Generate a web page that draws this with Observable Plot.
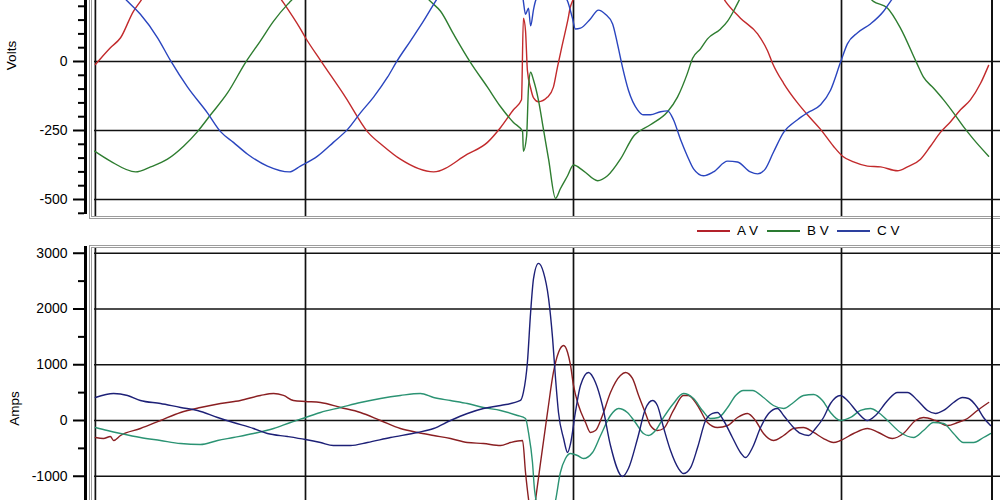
<!DOCTYPE html>
<html>
<head>
<meta charset="utf-8">
<script src="https://cdn.jsdelivr.net/npm/d3@7"></script>
<script src="https://cdn.jsdelivr.net/npm/@observablehq/plot@0.6"></script>
<style>
  html, body { margin: 0; padding: 0; background: #fff; }
  #wrap { position: relative; width: 1000px; height: 500px; overflow: hidden;
          font-family: "Liberation Sans", Arial, sans-serif; color: #000; }
  #topChart { position: absolute; left: 0; top: 0; }
  #botChart { position: absolute; left: 0; top: 247px; }
  .thick { position: absolute; left: 84px; width: 3px; background: #000; }
  .frameTop { position: absolute; left: 89px; top: -10px; width: 1000px; height: 229px;
              border-left: 3px double #9c9c9c; border-bottom: 3px double #9c9c9c; box-sizing: border-box; }
  .frameBot { position: absolute; left: 89px; top: 245px; width: 1000px; height: 300px;
              border-left: 3px double #9c9c9c; border-top: 3px double #9c9c9c; box-sizing: border-box; }
  .rightLine { position: absolute; left: 991px; top: 0; width: 2px; height: 500px; background: #111; }
  .ylab { position: absolute; font-size: 13.5px; transform: rotate(-90deg); transform-origin: center; white-space: nowrap; }
  .sw { position: absolute; top: 230px; height: 2px; width: 33px; }
  .lt { position: absolute; top: 223px; font-size: 13.5px; line-height: 15px; white-space: nowrap; }
</style>
</head>
<body>
<div id="wrap">
  <div id="topChart"></div>
  <div id="botChart"></div>
  <div class="frameTop"></div>
  <div class="frameBot"></div>
  <div class="thick" style="top:0;height:214px"></div>
  <div class="thick" style="top:246px;height:254px"></div>
  <div class="rightLine"></div>
  <div class="ylab" style="left:-3px;top:48px">Volts</div>
  <div class="ylab" style="left:-3px;top:401px">Amps</div>
  <div id="legend"></div>
</div>
<script>
// ---- time axis (ms) ----
const timeGrid = [2.16, 10, 20, 30];
const timeDomain = [2.127, 35.933];

// ---- Volts panel ticks ----
const voltMajor = [-500, -250, 0];
const voltMinor = [-550, -450, -400, -350, -300, -200, -150, -100, -50, 50, 100, 150, 200];

// ---- Amps panel ticks ----
const ampMajor = [-1000, 0, 1000, 2000, 3000];
const ampMinor = [-500, 500, 1500, 2500];

// ---- series names ----
const seriesNames = ["A V", "B V", "C V"];

// ---- A V (volts) ----
const avT = [2.16, 2.72, 3.10, 3.58, 3.84, 4.6, 6.5, 8.3, 9.14, 9.81, 10.00, 10.56, 11.49, 12.31, 12.91, 13.54, 14.78, 16.04, 16.79, 17.28, 17.76, 18.06, 18.13, 18.21, 18.28, 18.40, 18.51, 18.69, 19.03, 19.25, 19.40, 19.59, 19.78, 19.89, 19.96, 20.8, 22.8, 24.8, 25.67, 26.23, 26.87, 27.24, 27.43, 27.84, 28.36, 28.73, 29.22, 29.70, 30.04, 30.45, 30.97, 31.46, 32.09, 32.46, 32.95, 33.32, 33.69, 34.07, 34.44, 34.81, 35.19, 35.49];
const avV = [-11, 50, 86, 182, 218, 330, 400, 330, 218, 118, 86, 4, -129, -254, -307, -354, -400, -336, -293, -239, -175, -139, 157, 111, -32, -96, -132, -146, -129, -93, -21, 64, 146, 200, 218, 380, 450, 380, 218, 157, 100, 39, -7, -79, -150, -193, -246, -307, -343, -364, -379, -382, -396, -382, -354, -307, -257, -218, -175, -139, -79, -14];

// ---- B V (volts) ----
const bvT = [2.13, 2.72, 3.66, 4.22, 4.85, 5.45, 5.97, 6.46, 7.09, 7.76, 8.32, 8.81, 9.33, 9.44, 10.5, 12.05, 13.6, 14.66, 15.04, 15.52, 16.16, 16.79, 17.28, 17.76, 18.10, 18.13, 18.25, 18.32, 18.40, 18.51, 18.69, 18.88, 19.07, 19.33, 19.51, 19.78, 20.00, 20.37, 20.90, 21.27, 21.75, 22.24, 22.87, 23.51, 23.88, 24.25, 24.44, 24.74, 25.00, 25.49, 25.75, 25.97, 26.16, 27.2, 28.66, 30.1, 31.19, 31.72, 32.20, 32.80, 33.06, 33.43, 33.81, 34.18, 34.55, 34.93, 35.49];
const bvV = [-325, -361, -400, -382, -354, -307, -254, -193, -114, -4, 75, 146, 207, 218, 340, 400, 340, 218, 182, 100, -4, -93, -164, -221, -254, -325, -271, -96, -39, -68, -139, -246, -354, -496, -461, -414, -375, -396, -432, -414, -354, -271, -229, -182, -129, -43, 11, 46, 82, 118, 146, 182, 218, 350, 410, 350, 218, 193, 121, -4, -57, -96, -139, -186, -236, -282, -343];

// ---- C V (volts) ----
const cvT = [2.13, 3.36, 3.84, 4.48, 4.96, 5.60, 6.34, 6.83, 7.31, 7.84, 8.58, 9.40, 9.81, 10.45, 11.04, 11.57, 12.05, 12.54, 13.06, 13.43, 13.92, 14.40, 14.78, 14.85, 16.5, 18.0, 18.13, 18.21, 18.32, 18.40, 18.51, 18.58, 19.1, 19.78, 19.96, 20.07, 20.26, 20.63, 20.93, 21.19, 21.46, 21.64, 21.83, 22.05, 22.39, 22.61, 22.87, 23.25, 23.51, 23.73, 23.99, 24.25, 24.48, 24.85, 25.22, 25.75, 26.12, 26.60, 26.87, 27.16, 27.46, 27.84, 28.36, 28.73, 29.22, 29.59, 29.96, 30.22, 30.60, 31.08, 31.57, 31.83, 34.0, 35.93];
const cvV = [365, 218, 171, 86, 4, -93, -186, -254, -293, -336, -379, -400, -379, -343, -293, -246, -186, -129, -57, 4, 75, 146, 207, 218, 400, 330, 218, 171, 193, 129, 189, 218, 300, 218, 157, 118, 121, 154, 186, 171, 136, 64, -21, -104, -175, -193, -193, -182, -179, -211, -282, -343, -389, -414, -400, -361, -364, -400, -407, -389, -329, -257, -211, -186, -157, -104, -4, 64, 104, 136, 182, 218, 400, 240];

// ---- A current (amps) ----
const iaT = [2.16, 2.46, 2.72, 2.84, 3.10, 3.84, 4.59, 5.34, 6.08, 6.83, 7.57, 8.32, 8.81, 9.18, 9.55, 10.00, 10.56, 11.31, 12.05, 12.80, 13.54, 14.18, 14.78, 15.41, 16.04, 16.64, 17.28, 17.65, 18.10, 18.21, 18.32, 18.47, 18.58, 18.77, 19.03, 19.25, 19.44, 19.63, 19.78, 19.89, 20.00, 20.19, 20.45, 20.63, 20.82, 21.08, 21.38, 21.75, 21.94, 22.20, 22.43, 22.69, 22.87, 23.13, 23.36, 23.73, 24.10, 24.29, 24.63, 25.00, 25.37, 25.75, 26.12, 26.49, 26.79, 27.09, 27.46, 27.84, 28.21, 28.58, 28.96, 29.33, 29.70, 29.96, 30.45, 30.97, 31.38, 31.90, 32.31, 32.76, 33.06, 33.51, 33.96, 34.33, 34.70, 35.07, 35.49];
const iaA = [-305, -323, -287, -359, -269, -144, 0, 144, 233, 305, 359, 449, 485, 449, 359, 341, 323, 233, 144, 0, -144, -215, -269, -323, -395, -413, -449, -395, -359, -933, -1400, -1800, -1436, -754, 144, 862, 1221, 1346, 1221, 987, 628, 269, -36, -215, -180, 90, 503, 808, 862, 754, 449, 126, -90, -180, -144, 180, 449, 449, 269, -36, -126, -90, 54, 126, 0, -233, -359, -269, -144, -126, -215, -323, -395, -359, -233, -144, -215, -323, -233, 0, 54, 0, -90, -36, 36, 180, 323];

// ---- B current (amps) ----
const ibT = [2.16, 2.61, 3.10, 3.84, 4.59, 5.34, 6.08, 6.72, 7.31, 8.06, 8.81, 9.44, 10.00, 10.56, 11.31, 12.05, 12.80, 13.54, 14.29, 14.78, 15.41, 16.04, 16.64, 17.28, 17.91, 18.21, 18.32, 18.47, 18.55, 18.96, 19.33, 19.51, 19.70, 19.89, 20.15, 20.37, 20.71, 21.01, 21.38, 21.68, 22.01, 22.31, 22.61, 22.80, 23.06, 23.36, 23.73, 24.10, 24.48, 24.81, 25.11, 25.41, 25.75, 26.05, 26.34, 26.68, 27.09, 27.46, 27.84, 28.21, 28.58, 28.96, 29.29, 29.59, 29.96, 30.34, 30.71, 31.08, 31.38, 31.72, 32.20, 32.69, 33.06, 33.43, 33.81, 34.18, 34.55, 34.93, 35.30, 35.56];
const ibA = [-126, -180, -233, -305, -359, -413, -431, -359, -305, -233, -144, -36, 54, 144, 233, 323, 395, 449, 485, 413, 359, 305, 233, 180, 90, 36, -215, -754, -1257, -2000, -1436, -933, -682, -592, -628, -682, -574, -269, 90, 215, 144, -36, -233, -269, -180, 54, 305, 485, 395, 180, 36, 54, 233, 449, 539, 539, 413, 269, 215, 323, 449, 467, 359, 144, 0, 54, 180, 215, 144, 0, -215, -305, -180, -36, -54, -233, -395, -395, -305, -233];

// ---- C current (amps) ----
const icT = [2.16, 2.84, 3.36, 3.84, 4.59, 5.34, 5.97, 6.72, 7.31, 8.06, 8.58, 9.33, 10.00, 10.56, 11.04, 11.68, 12.31, 13.17, 14.18, 14.78, 15.41, 16.04, 16.64, 17.28, 18.02, 18.13, 18.28, 18.40, 18.51, 18.69, 18.88, 19.07, 19.22, 19.33, 19.44, 19.63, 19.78, 19.89, 20.07, 20.26, 20.56, 20.82, 21.08, 21.38, 21.83, 22.05, 22.39, 22.69, 22.95, 23.13, 23.36, 23.62, 23.92, 24.10, 24.37, 24.63, 24.93, 25.19, 25.37, 25.60, 25.93, 26.23, 26.42, 26.68, 26.98, 27.28, 27.61, 27.84, 28.21, 28.47, 28.77, 29.03, 29.33, 29.59, 29.96, 30.22, 30.60, 30.97, 31.27, 31.72, 32.09, 32.46, 32.84, 33.21, 33.51, 33.81, 34.18, 34.51, 34.74, 35.07, 35.30, 35.56];
const icA = [413, 485, 449, 359, 305, 233, 180, 54, -36, -144, -233, -287, -341, -395, -449, -449, -395, -305, -215, -144, 0, 126, 215, 269, 359, 503, 1041, 1939, 2549, 2818, 2657, 2190, 1472, 754, 144, -323, -574, -413, 144, 628, 862, 682, 269, -449, -1005, -862, -323, 215, 359, 269, -126, -539, -862, -951, -844, -485, 0, 126, 144, 0, -305, -574, -664, -485, -126, 126, 215, 90, -126, -233, -269, -144, 54, 305, 449, 359, 144, 0, 90, 359, 503, 503, 359, 180, 126, 180, 323, 413, 395, 233, 54, -90];

// colours
const voltColors = ["#c22a2c", "#2e7d30", "#2a45bf"];
const ampColors = ["#8a1f22", "#2b9373", "#1d2077"];
const legendColors = ["#b3222b", "#2a7a31", "#2d409f"];

const rows = (ts, vs) => ts.map((t, i) => ({t, v: vs[i]}));
const font = '"Liberation Sans", Arial, sans-serif';
const hyphen = d => String(d);
const lineOpts = (color) => ({x: "t", y: "v", stroke: color, strokeWidth: 1.4, curve: "monotone-x", clip: true});

const topPlot = Plot.plot({
  width: 1000, height: 216,
  marginLeft: 94, marginRight: 0, marginTop: 0, marginBottom: 0,
  style: {fontFamily: font, fontSize: "14px", color: "#000", background: "transparent", overflow: "visible"},
  x: {domain: timeDomain, axis: null},
  y: {domain: [-561.6, 221], axis: null},
  marks: [
    Plot.ruleY(voltMajor, {stroke: "#111", strokeWidth: 1.7}),
    Plot.ruleX(timeGrid, {stroke: "#111", strokeWidth: 1.7}),
    Plot.axisY({ticks: voltMinor, tickSize: 6, tickFormat: () => "", dx: -10, strokeWidth: 2, label: null}),
    Plot.axisY({ticks: voltMajor, tickSize: 11, tickPadding: 6, dx: -10, strokeWidth: 2, label: null, fontSize: 14, tickFormat: hyphen}),
    Plot.line(rows(avT, avV), lineOpts(voltColors[0])),
    Plot.line(rows(bvT, bvV), lineOpts(voltColors[1])),
    Plot.line(rows(cvT, cvV), lineOpts(voltColors[2]))
  ]
});
document.getElementById("topChart").appendChild(topPlot);

const botPlot = Plot.plot({
  width: 1000, height: 253,
  marginLeft: 94, marginRight: 0, marginTop: 0, marginBottom: 0,
  style: {fontFamily: font, fontSize: "14px", color: "#000", background: "transparent", overflow: "visible"},
  x: {domain: timeDomain, axis: null},
  y: {domain: [-1435, 3103], axis: null},
  marks: [
    Plot.ruleY(ampMajor, {stroke: "#111", strokeWidth: 1.7}),
    Plot.ruleX(timeGrid, {stroke: "#111", strokeWidth: 1.7}),
    Plot.axisY({ticks: ampMinor, tickSize: 6, tickFormat: () => "", dx: -10, strokeWidth: 2, label: null}),
    Plot.axisY({ticks: ampMajor, tickSize: 11, tickPadding: 6, dx: -10, strokeWidth: 2, label: null, fontSize: 14, tickFormat: hyphen}),
    Plot.line(rows(iaT, iaA), lineOpts(ampColors[0])),
    Plot.line(rows(ibT, ibA), lineOpts(ampColors[1])),
    Plot.line(rows(icT, icA), lineOpts(ampColors[2]))
  ]
});
document.getElementById("botChart").appendChild(botPlot);

// legend
const legend = document.getElementById("legend");
const swX = [697, 767, 837];
const txX = [737, 807, 877];
seriesNames.forEach((name, i) => {
  const s = document.createElement("div");
  s.className = "sw"; s.style.left = swX[i] + "px"; s.style.background = legendColors[i];
  legend.appendChild(s);
  const t = document.createElement("div");
  t.className = "lt"; t.style.left = txX[i] + "px"; t.textContent = name;
  legend.appendChild(t);
});
</script>
</body>
</html>
